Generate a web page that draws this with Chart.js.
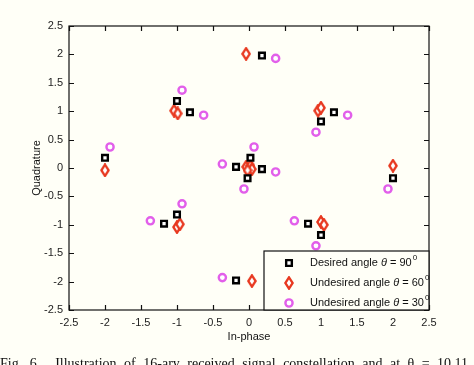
<!DOCTYPE html>
<html><head><meta charset="utf-8">
<script src="https://cdn.jsdelivr.net/npm/chart.js@4/dist/chart.umd.min.js"></script>
<style>
html,body{margin:0;padding:0;background:#fffff7;overflow:hidden;}
#wrap{position:relative;width:474px;height:365px;overflow:hidden;}
canvas{position:absolute;left:0;top:0;}
#cap{position:absolute;left:0;top:356px;font:14px "Liberation Serif",serif;white-space:nowrap;color:#111;word-spacing:4px;}
</style></head><body>
<div id="wrap"><canvas id="c" width="474" height="365"></canvas>
<div id="cap">Fig. 6.&nbsp; Illustration of 16-ary received signal constellation and at θ = 10.11</div></div>
<script>
const xTicks = [-2.5,-2,-1.5,-1,-0.5,0,0.5,1,1.5,2,2.5];
const yTicks = [-2.5,-2,-1.5,-1,-0.5,0,0.5,1,1.5,2,2.5];
const seriesNames = ['Desired angle θ = 90', 'Undesired angle θ = 60', 'Undesired angle θ = 30'];

const desiredX = [-2, -1, -0.82, 0.18, 1, 1.18, 2, -0.18, 0.02, 0.18, -0.02, -1, -1.18, -0.18, 0.82, 1];
const desiredY = [0.18, 1.18, 0.98, 1.98, 0.82, 0.98, -0.18, 0.02, 0.18, -0.02, -0.18, -0.82, -0.98, -1.98, -0.98, -1.18];

const undes60X = [-2, -1.04, -0.99, -0.04, 0.96, 1.0, 2.0, -0.04, 0.02, 0.04, -0.02, -1.0, -0.96, 0.04, 1.0, 1.04];
const undes60Y = [-0.04, 1.01, 0.96, 2.01, 1.01, 1.06, 0.04, 0.02, 0.04, -0.02, -0.04, -1.04, -0.99, -1.99, -0.95, -1.0];

const undes30X = [-1.93, -0.93, -0.63, 0.37, 0.93, 1.37, 1.93, 0.07, -0.37, 0.37, -0.07, -0.93, -1.37, -0.37, 0.63, 0.93];
const undes30Y = [0.37, 1.37, 0.93, 1.93, 0.63, 0.93, -0.37, 0.37, 0.07, -0.07, -0.37, -0.63, -0.93, -1.93, -0.93, -1.37];

const BLACK = '#000000', RED = '#e8381f', MAG = '#e25fea', BG = '#fffff7';
const FONT = '"Liberation Sans", Arial, sans-serif';

function diamondCanvas(){
  const c = document.createElement('canvas');
  c.width = 10; c.height = 14;
  const g = c.getContext('2d');
  g.beginPath();
  g.moveTo(5,1.3); g.lineTo(8.7,7); g.lineTo(5,12.7); g.lineTo(1.3,7); g.closePath();
  g.fillStyle = '#ffffff'; g.fill();
  g.lineWidth = 2.3; g.strokeStyle = RED; g.stroke();
  return c;
}
const diamond = diamondCanvas();

function pts(xs, ys){ return xs.map((x,i)=>({x:x, y:ys[i]})); }

const styles = [
  {pointStyle:'rect', radius:4, borderWidth:2.4, borderColor:BLACK, backgroundColor:'#ffffff'},
  {pointStyle:diamond, radius:5, borderWidth:0, borderColor:RED, backgroundColor:'#ffffff'},
  {pointStyle:'circle', radius:3.6, borderWidth:2.4, borderColor:MAG, backgroundColor:'#ffffff'}
];

const framePlugin = {
  id:'frame',
  beforeDatasetsDraw(chart){
    const {ctx, chartArea:a, scales:{x, y}} = chart;
    ctx.save();
    ctx.strokeStyle = '#111'; ctx.lineWidth = 1.2;
    ctx.strokeRect(a.left, a.top, a.right-a.left, a.bottom-a.top);
    const L = 5;
    ctx.beginPath();
    xTicks.forEach(v=>{ const p = Math.round(x.getPixelForValue(v))+0.5;
      ctx.moveTo(p,a.bottom); ctx.lineTo(p,a.bottom-L);
      ctx.moveTo(p,a.top); ctx.lineTo(p,a.top+L); });
    yTicks.forEach(v=>{ const p = Math.round(y.getPixelForValue(v))+0.5;
      ctx.moveTo(a.left,p); ctx.lineTo(a.left+L,p);
      ctx.moveTo(a.right,p); ctx.lineTo(a.right-L,p); });
    ctx.stroke();
    ctx.restore();
  },
  afterDraw(chart){
    const {ctx, chartArea:a} = chart;
    ctx.save();
    const bx = 264, by = 251, bw = a.right - 264, bh = a.bottom - 251;
    ctx.fillStyle = BG; ctx.fillRect(bx, by, bw, bh);
    ctx.strokeStyle = '#111'; ctx.lineWidth = 1.2; ctx.strokeRect(bx, by, bw, bh);
    const rows = [263, 283, 303];
    const nums = ['90','60','30'];
    rows.forEach((ry,i)=>{
      const s = styles[i];
      ctx.fillStyle = s.backgroundColor; ctx.strokeStyle = s.borderColor; ctx.lineWidth = s.borderWidth;
      Chart.helpers.drawPoint(ctx, {pointStyle:s.pointStyle, radius:s.radius, rotation:0, borderWidth:s.borderWidth}, 289, ry);
      ctx.fillStyle = '#111'; ctx.textBaseline = 'middle'; ctx.textAlign = 'left';
      let tx = 310;
      const pre = (i===0 ? 'Desired angle ' : 'Undesired angle ');
      ctx.font = '11px ' + FONT; ctx.fillText(pre, tx, ry); tx += ctx.measureText(pre).width;
      ctx.font = 'italic 11px ' + FONT; ctx.fillText('θ', tx, ry); tx += ctx.measureText('θ').width;
      const mid = ' = ' + nums[i];
      ctx.font = '11px ' + FONT; ctx.fillText(mid, tx, ry); tx += ctx.measureText(mid).width + 1;
      ctx.font = '8px ' + FONT; ctx.fillText('0', tx, ry - 5);
    });
    ctx.restore();
  }
};

new Chart(document.getElementById('c'), {
  type:'scatter',
  data:{ datasets:[
    {label:seriesNames[0], data:pts(desiredX, desiredY), pointStyle:styles[0].pointStyle, pointRadius:styles[0].radius, pointBorderWidth:styles[0].borderWidth, borderColor:BLACK, pointBorderColor:BLACK, pointBackgroundColor:'#ffffff'},
    {label:seriesNames[1], data:pts(undes60X, undes60Y), pointStyle:diamond, pointRadius:5, pointBorderWidth:0, borderColor:RED, pointBackgroundColor:'#ffffff'},
    {label:seriesNames[2], data:pts(undes30X, undes30Y), pointStyle:'circle', pointRadius:styles[2].radius, pointBorderWidth:styles[2].borderWidth, borderColor:MAG, pointBorderColor:MAG, pointBackgroundColor:'#ffffff'}
  ]},
  options:{
    responsive:false, animation:false, devicePixelRatio:1,
    layout:{padding:{left:0, top:26, right:45, bottom:20}},
    plugins:{legend:{display:false}, tooltip:{enabled:false}},
    scales:{
      x:{ type:'linear', min:-2.5, max:2.5,
        afterBuildTicks(s){ s.ticks = xTicks.map(v=>({value:v})); },
        afterFit(s){ s.height = 35; },
        grid:{display:false, drawTicks:false}, border:{display:false},
        ticks:{ padding:6, color:'#222', font:{family:FONT, size:11}, maxRotation:0, autoSkip:false, callback:v=>String(v) },
        title:{display:true, text:'In-phase', color:'#111', font:{family:FONT, size:11}, padding:{top:0, bottom:1}}
      },
      y:{ type:'linear', min:-2.5, max:2.5,
        afterBuildTicks(s){ s.ticks = yTicks.map(v=>({value:v})); },
        afterFit(s){ s.width = 69; },
        grid:{display:false, drawTicks:false}, border:{display:false},
        ticks:{ padding:6, color:'#222', font:{family:FONT, size:11}, autoSkip:false, callback:v=>String(v) },
        title:{display:true, text:'Quadrature', color:'#111', font:{family:FONT, size:11}, padding:{top:30, bottom:0}}
      }
    }
  },
  plugins:[framePlugin]
});
</script></body></html>
